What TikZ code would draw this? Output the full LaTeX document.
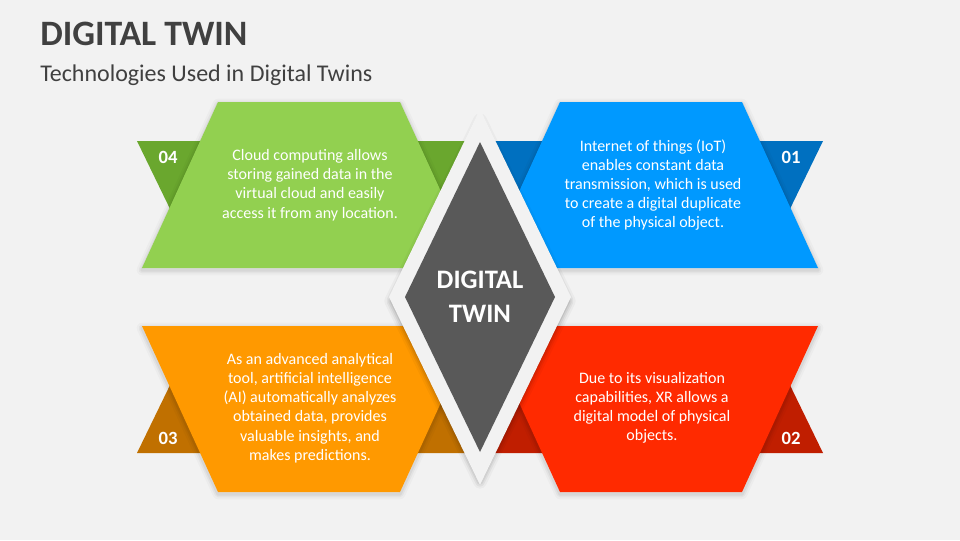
\documentclass[tikz,border=0pt]{standalone}
\usepackage{fontspec}
\setmainfont{Carlito}
\definecolor{bg}{HTML}{F2F2F2}
\definecolor{titlec}{HTML}{404040}
\definecolor{gmain}{HTML}{92D050}
\definecolor{gdark}{HTML}{6AA72E}
\definecolor{bmain}{HTML}{0099FF}
\definecolor{bdark}{HTML}{0070C0}
\definecolor{omain}{HTML}{FF9900}
\definecolor{odark}{HTML}{C07000}
\definecolor{rmain}{HTML}{FF2A00}
\definecolor{rdark}{HTML}{C01E00}
\definecolor{dgray}{HTML}{595959}
\newcommand{\shapeq}[5]{%
  \foreach \lw/\op in {8/0.025,5/0.035,2.5/0.05}{%
    \draw[black, opacity=\op, line width=\lw pt, line join=round, yshift=-1.5pt] #1 -- #2 -- #3 -- #4 -- cycle;}%
  \fill[#5] #1 -- #2 -- #3 -- #4 -- cycle;}
\begin{document}
\begin{tikzpicture}[x=0.75pt,y=-0.75pt,
  body/.style={text=white, align=center, inner sep=0pt, font=\fontsize{12}{14.4}\selectfont},
  num/.style={text=white, inner sep=0pt, font=\fontsize{14}{16}\selectfont\bfseries},
  ctext/.style={text=white, align=center, inner sep=0pt, font=\fontsize{20}{25.5}\selectfont\bfseries}]
\fill[bg] (0,0) rectangle (960,540);
\useasboundingbox (0,0) rectangle (960,540);
% titles
\node[anchor=base west, inner sep=0pt, text=titlec, font=\fontsize{26.8}{30}\selectfont\bfseries] (title) at (40,45) {DIGITAL TWIN};
\node[anchor=base west, inner sep=0pt, text=titlec, font=\fontsize{18}{22}\selectfont] (subtitle) at (40,81) {Technologies Used in Digital Twins};
% ribbons (dark tabs)
\fill[gdark] (137,141) -- (480,141) -- (480,250) -- (190,250) -- cycle;
\fill[bdark] (823,141) -- (480,141) -- (480,250) -- (770,250) -- cycle;
\fill[odark] (137,453) -- (480,453) -- (480,344) -- (190,344) -- cycle;
\fill[rdark] (823,453) -- (480,453) -- (480,344) -- (770,344) -- cycle;
% main shapes
\shapeq{(218,102)}{(400,102)}{(476,268)}{(142,268)}{gmain}
\shapeq{(742,102)}{(560,102)}{(484,268)}{(818,268)}{bmain}
\shapeq{(142,326)}{(476,326)}{(400,492)}{(218,492)}{omain}
\shapeq{(484,326)}{(818,326)}{(742,492)}{(560,492)}{rmain}
% white band with soft shadow
\foreach \lw/\op in {10/0.03,7/0.045,4.5/0.06,2/0.08}{%
  \draw[black, opacity=\op, line width=\lw pt, line join=round, yshift=-3pt] (480,116) -- (569,297) -- (480,478) -- (391,297) -- cycle;}
\fill[bg] (480,109) -- (571,297) -- (480,485) -- (389,297) -- cycle;
\fill[dgray] (480,142) -- (555,297) -- (480,452) -- (405,297) -- cycle;
% texts
\node[ctext] (center) at (480,297) {DIGITAL\\TWIN};
\node[num] (n4) at (168,157.5) {04};
\node[num] (n1) at (791,157.5) {01};
\node[num] (n3) at (168,438) {03};
\node[num] (n2) at (791,438) {02};
\node[body] (t4) at (310,185) {Cloud computing allows\\storing gained data in the\\virtual cloud and easily\\access it from any location.};
\node[body] (t1) at (653,185) {Internet of things (IoT)\\enables constant data\\transmission, which is used\\to create a digital duplicate\\of the physical object.};
\node[body] (t3) at (310,408) {As an advanced analytical\\tool, artificial intelligence\\(AI) automatically analyzes\\obtained data, provides\\valuable insights, and\\makes predictions.};
\node[body] (t2) at (652,408) {Due to its visualization\\capabilities, XR allows a\\digital model of physical\\objects.};
\end{tikzpicture}
\end{document}
